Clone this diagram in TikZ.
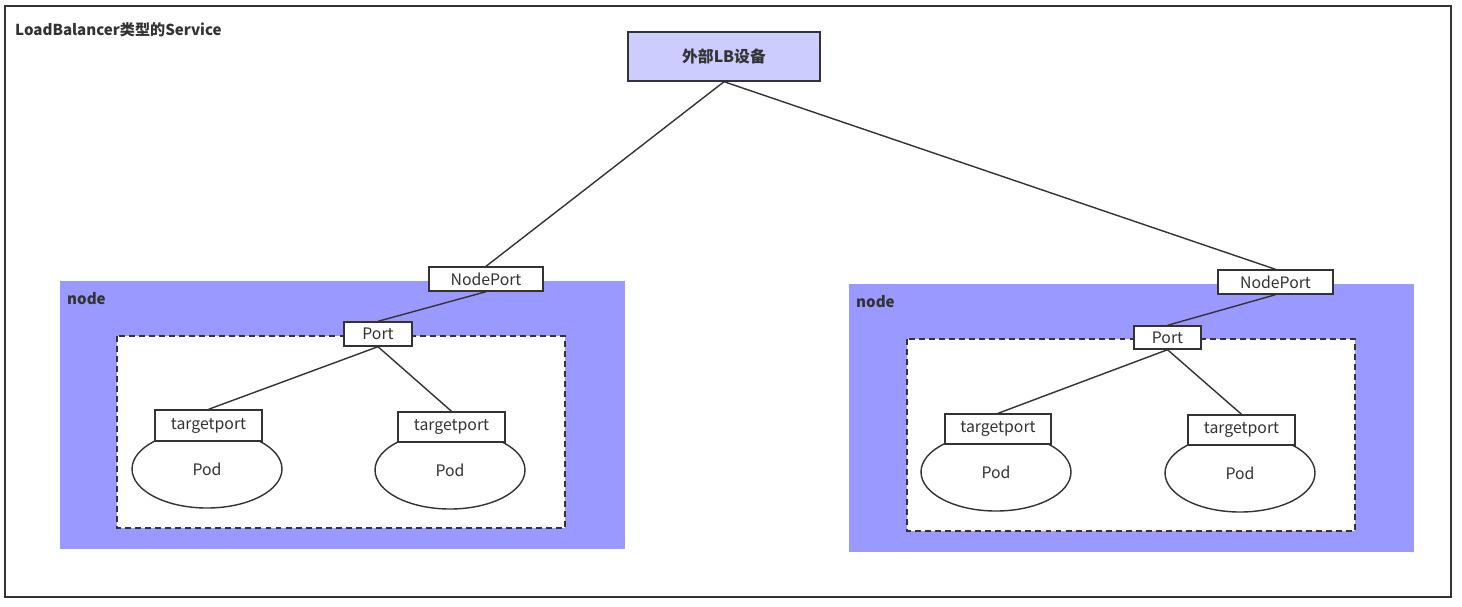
\documentclass[tikz,border=0pt]{standalone}
\usepackage{fontspec}
\setmainfont{Noto Sans CJK SC}
\usetikzlibrary{shapes.geometric}
\definecolor{lbfill}{HTML}{CCCCFF}
\definecolor{nodefill}{HTML}{9999FF}
\definecolor{ink}{HTML}{333333}

\tikzset{
  box/.style={draw=ink, fill=white, line width=0.8pt, inner sep=0pt, text=ink, font=\fontsize{9}{10}\selectfont},
  pod/.style={ellipse, draw=ink, fill=white, line width=0.8pt, inner sep=0pt, minimum width=3cm, minimum height=1.56cm, text=ink, font=\fontsize{9}{10}\selectfont},
  wire/.style={draw=ink, line width=0.8pt},
  dashbox/.style={draw=ink, fill=white, line width=0.8pt, dash pattern=on 3.4pt off 2.3pt},
  label/.style={anchor=west, text=ink, font=\fontsize{8.6}{10}\selectfont\bfseries}
}

\begin{document}
\begin{tikzpicture}[x=0.02cm,y=-0.02cm]
\useasboundingbox (0,0) rectangle (1462,606);
\draw [ink, line width=0.8pt] (5,6) rectangle (1451,597);
\node [label] (title) at (9,30) {LoadBalancer类型的Service};

\node [draw=ink, fill=lbfill, line width=0.8pt, minimum width=3.84cm, minimum height=0.98cm, text=ink, font=\fontsize{9}{10}\selectfont\bfseries] (lb) at (724,56.5) {外部LB设备};

% left node
\fill [nodefill] (60,281) rectangle (625,549);
\node [label] (lname) at (61,299) {node};
\draw [dashbox] (117,336) rectangle (565,528);

% right node
\fill [nodefill] (849,284) rectangle (1414,552);
\node [label] (rname) at (850,302) {node};
\draw [dashbox] (907,339) rectangle (1355,531);

\node [pod] (lpod1) at (207,469) {Pod};
\node [pod] (lpod2) at (450,470) {Pod};
\node [pod] (rpod1) at (996,472) {Pod};
\node [pod] (rpod2) at (1240,473) {Pod};

\node [box, minimum width=2.28cm, minimum height=0.48cm] (lnp) at (486,279) {NodePort};
\node [box, minimum width=1.36cm, minimum height=0.48cm] (lport) at (378,334) {Port};
\node [box, minimum width=2.14cm, minimum height=0.62cm] (ltp1) at (208.5,425.5) {targetport};
\node [box, minimum width=2.14cm, minimum height=0.6cm] (ltp2) at (451.5,427) {targetport};

\node [box, minimum width=2.3cm, minimum height=0.48cm] (rnp) at (1275.5,282) {NodePort};
\node [box, minimum width=1.34cm, minimum height=0.46cm] (rport) at (1167.5,337.5) {Port};
\node [box, minimum width=2.12cm, minimum height=0.6cm] (rtp1) at (998,429) {targetport};
\node [box, minimum width=2.14cm, minimum height=0.6cm] (rtp2) at (1241.5,430) {targetport};

\draw [wire] (lb.south) -- (lnp.north);
\draw [wire] (lb.south) -- (rnp.north);
\draw [wire] (lnp.south) -- (lport.north);
\draw [wire] (rnp.south) -- (rport.north);
\draw [wire] (lport.south) -- (ltp1.north);
\draw [wire] (lport.south) -- (ltp2.north);
\draw [wire] (rport.south) -- (rtp1.north);
\draw [wire] (rport.south) -- (rtp2.north);
\end{tikzpicture}
\end{document}
